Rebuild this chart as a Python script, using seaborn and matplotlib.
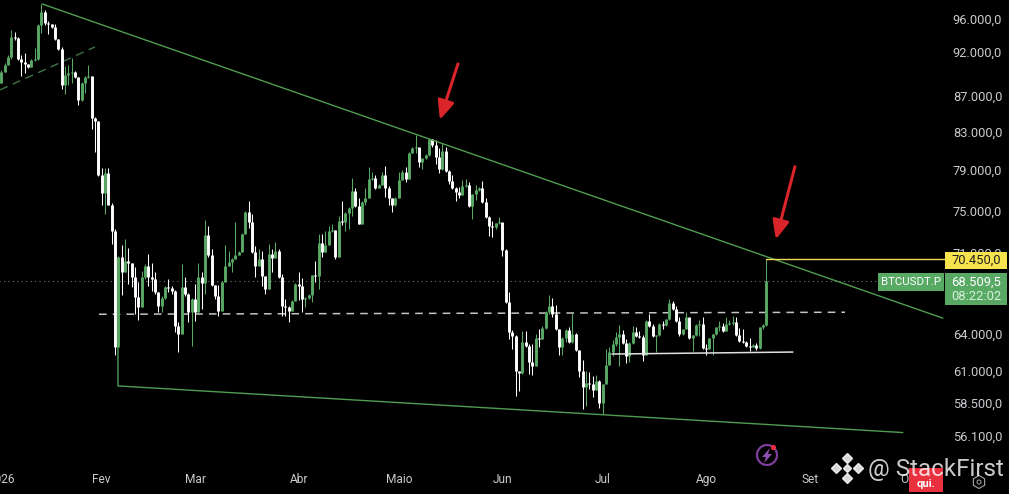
import matplotlib
matplotlib.use("Agg")
import matplotlib.pyplot as plt
from matplotlib.lines import Line2D
from matplotlib.patches import Circle, Polygon, Rectangle, RegularPolygon
from matplotlib.transforms import Affine2D
from matplotlib.ticker import FixedLocator, FixedFormatter, NullLocator
import pandas as pd
import seaborn as sns

# daily candles, the index is days since 1 Jan 2026
first_open = 88420
closes = [89670, 90480, 91420, 93800, 93680, 91190, 90840, 90600, 90250, 91070,
          91190, 95260, 96860, 95510, 95390, 95020, 93560, 92360, 88190, 89330,
          89560, 89670, 89100, 86500, 88420, 89100, 89220, 84530, 84200, 78550,
          76750, 78750, 75580, 73000, 62890, 70600, 69250, 70240, 70060, 68810,
          67060, 66210, 68810, 69790, 68810, 68630, 67500, 66290, 66980, 67930,
          67850, 67590, 64610, 63950, 67930, 67330, 65780, 66890, 65780, 68810,
          68280, 72630, 70780, 68100, 67150, 65870, 68370, 69790, 70150, 70420,
          70780, 71060, 72720, 74810, 73860, 71060, 69790, 70420, 68900, 67760,
          70870, 70510, 71150, 68810, 66290, 66210, 65870, 66720, 68190, 68020,
          66890, 66980, 67240, 68990, 68900, 71890, 71060, 71700, 73000, 73100,
          70600, 73950, 73860, 74720, 75200, 76950, 75390, 73670, 75780, 76260,
          78150, 78250, 77250, 77550, 78550, 77250, 76260, 75490, 76260, 78050,
          78860, 78150, 80810, 81330, 81430, 79880, 80290, 80600, 82270, 81640,
          80390, 79160, 81020, 78960, 77950, 77250, 76850, 76560, 77450, 77550,
          75390, 76660, 77050, 77250, 75780, 74330, 73470, 73380, 73760, 73860,
          71240, 66630, 64120, 63790, 60980, 60820, 63300, 62970, 61690, 61380,
          63620, 63540, 64440, 65780, 66290, 65610, 64360, 62890, 63620, 64280,
          63300, 63950, 62650, 60980, 59750, 60050, 59970, 59510, 60200, 58530,
          59970, 61450, 62490, 63130, 63700, 63950, 63210, 62170, 63210, 64120,
          63790, 63700, 62250, 65020, 64610, 63790, 63870, 64780, 64690, 65190,
          66550, 66040, 65020, 63950, 64360, 65360, 63620, 63870, 64690, 64780,
          62810, 62730, 63620, 63950, 64530, 64610, 64200, 64780, 64860, 64940,
          63870, 63380, 63300, 62970, 62890, 63050, 62810, 64530, 64690, 68509.5]
highs = [89900, 90720, 91650, 94650, 94400, 93800, 91650, 91890, 90600, 91190,
         92480, 95390, 97880, 97110, 95760, 95390, 95390, 93560, 92600, 90360,
         90480, 91300, 89780, 89100, 88540, 89220, 90480, 89220, 84630, 84200,
         79260, 79260, 79260, 75680, 73190, 70690, 71700, 72260, 71420, 70060,
         69700, 68370, 69340, 69970, 70870, 70060, 69250, 67500, 67150, 68020,
         68630, 68020, 67680, 64940, 69970, 68810, 67410, 66980, 68190, 70060,
         69250, 74050, 73470, 71330, 68100, 68100, 68460, 71700, 71150, 70510,
         73860, 71150, 72810, 74910, 75970, 74620, 71610, 71330, 71150, 68900,
         71800, 71330, 71980, 71330, 69070, 66890, 66290, 66800, 68280, 69250,
         68720, 67060, 67330, 68990, 70240, 72720, 72720, 73000, 73470, 73670,
         73100, 74430, 75970, 74810, 75290, 78250, 77250, 76170, 75880, 77250,
         79360, 78860, 78550, 77650, 78860, 79470, 77450, 76260, 76360, 78860,
         79060, 79360, 80910, 81430, 82700, 81330, 80190, 80700, 82380, 82270,
         82170, 81330, 81850, 81430, 79060, 78550, 77350, 77350, 78050, 78150,
         77850, 76660, 77550, 77350, 77950, 76170, 74430, 73950, 73760, 74330,
         73670, 71330, 67500, 64280, 63870, 60980, 64200, 64200, 63130, 63130,
         63950, 64360, 64610, 65870, 67240, 66980, 66380, 64360, 63700, 64360,
         64530, 65700, 64030, 62650, 61850, 60980, 60900, 60590, 60670, 60280,
         59970, 62730, 62890, 63460, 64120, 64690, 64280, 63540, 63300, 64610,
         64530, 64200, 63870, 65100, 65610, 64780, 63870, 64860, 65020, 65190,
         66890, 66720, 66290, 65360, 64360, 65780, 65280, 63870, 64780, 65100,
         65360, 63130, 63620, 63950, 64530, 65020, 64860, 65360, 65100, 65440,
         65360, 64440, 64360, 63380, 63620, 63130, 63210, 64530, 64780, 70450]
lows = [88420, 89670, 90480, 91190, 93440, 91070, 89220, 89560, 90130, 90250,
        90950, 91070, 94280, 95260, 94160, 94900, 93440, 92240, 87730, 87160,
        88190, 88420, 88990, 85950, 86390, 87270, 88990, 83340, 80910, 78450,
        75580, 74620, 75490, 71800, 62250, 62890, 67240, 69250, 68190, 67930,
        65610, 65100, 66210, 68630, 68020, 67590, 67330, 65780, 65780, 66890,
        67500, 67330, 64120, 62490, 63950, 67150, 64940, 62970, 65020, 65780,
        66040, 67330, 70600, 68020, 66890, 65440, 65870, 68370, 69790, 69250,
        70420, 70780, 71060, 72720, 73280, 70960, 68810, 69790, 68020, 67330,
        67760, 69250, 70510, 68720, 65440, 65440, 64940, 65870, 66720, 66800,
        65780, 66210, 66890, 66630, 68370, 67760, 70600, 71060, 71700, 72910,
        70420, 70600, 73570, 73000, 73190, 74430, 75290, 73670, 73670, 75580,
        76260, 78050, 77150, 77250, 77550, 76360, 75580, 74810, 75390, 76260,
        78050, 77850, 78150, 80810, 80810, 79360, 79160, 80190, 80500, 81430,
        79680, 78750, 79060, 78860, 77650, 77150, 75970, 76170, 76560, 77350,
        75290, 74140, 76070, 76950, 75680, 74240, 72540, 72450, 73190, 73670,
        70690, 66550, 63540, 62730, 59060, 59440, 60740, 62890, 60740, 60670,
        61380, 62890, 63540, 64360, 65610, 65360, 64280, 62250, 62250, 63300,
        63210, 63210, 62570, 60520, 58070, 58300, 59590, 58980, 59510, 58150,
        57690, 59970, 61450, 62170, 62970, 61380, 63130, 61610, 61690, 63130,
        63700, 63620, 61770, 62250, 64530, 63700, 62490, 63790, 64360, 64610,
        65100, 65950, 64940, 63790, 63870, 64360, 63540, 62570, 63790, 63790,
        62730, 62250, 62730, 62250, 63870, 64200, 64120, 64200, 64690, 64690,
        63790, 63300, 63210, 62890, 62570, 62890, 62650, 62730, 64360, 64610]

price_ticks = [96000, 92000, 87000, 83000, 79000, 75000, 71000, 64000, 61000, 58500, 56100]
month_days = [1, 31, 59, 90, 120, 151, 181, 212, 243, 273]
month_labels = ["2026", "Fev", "Mar", "Abr", "Maio", "Jun", "Jul", "Ago", "Set", "Out"]

upper_line = ([13.2, 282.9], [97880, 65280])
lower_line = ([35.9, 35.9, 270.9], [62890, 59820, 56330])
old_channel = ([0.6, 29], [87620, 92600])
mid_dashed = ([30.2, 253.6], [65610, 65780])
support = ([183.8, 238], [62330, 62490])
high_level = ([230, 285], [70450, 70450])
last_price = ([0, 263], [68509.5, 68509.5])

GREEN = "#58a964"
TEXT = "#c9cbcf"

sns.set_theme(style="dark", rc={"axes.facecolor": "black", "figure.facecolor": "black",
                                "axes.grid": False, "font.family": "Roboto"})

rows = []
prev = first_open
for i, (c, h, l) in enumerate(zip(closes, highs, lows)):
    day = i + 1
    d = "up" if c >= prev else "down"
    rows.append({"day": day, "wick": h, "body": c, "dir": d})
    rows.append({"day": day, "wick": l, "body": prev, "dir": d})
    prev = c
candles = pd.DataFrame(rows)
colors = {"up": GREEN, "down": "white"}

fig = plt.figure(figsize=(10.09, 4.94), dpi=100)
ax = fig.add_axes([-20 / 1009, 0, 1029 / 1009, 1])
ax.set_yscale("log")

sns.lineplot(data=candles, x="day", y="wick", hue="dir", units="day", estimator=None, sort=False,
             palette=colors, linewidth=0.75, legend=False, ax=ax, solid_capstyle="butt", zorder=3)
sns.lineplot(data=candles, x="day", y="body", hue="dir", units="day", estimator=None, sort=False,
             palette=colors, linewidth=2.1, legend=False, ax=ax, solid_capstyle="butt", zorder=3)

ax.plot(*upper_line, color="#4f9d52", lw=1, zorder=4)
ax.plot(*lower_line, color="#4f9d52", lw=1, zorder=4)
ax.plot(*old_channel, color="#3f7547", lw=1, ls=(0, (6, 4)), zorder=2)
ax.plot(*mid_dashed, color="#c4c4c4", lw=1.1, ls=(0, (5, 4)), zorder=2)
ax.plot(*support, color="#e0e0e0", lw=1.1, zorder=4)
ax.plot(*high_level, color="#f2dc55", lw=1, zorder=4)
ax.plot(*last_price, color="#6f7d71", lw=0.8, ls=(0, (1, 3)), zorder=1)

for start, tip in [((137.7, 90600), (132.3, 84310)), ((238.6, 79360), (232.9, 72260))]:
    ax.annotate("", xy=tip, xytext=start, zorder=6,
                arrowprops=dict(arrowstyle="-|>,head_width=0.42,head_length=0.95", color="#d9252a",
                                lw=2.2, shrinkA=0, shrinkB=0))

ax.set_xlim(-5.41, 302.7)
ax.set_ylim(52040, 98380)
ax.set_xlabel("")
ax.set_ylabel("")
for spine in ax.spines.values():
    spine.set_visible(False)

ax.yaxis.set_major_locator(FixedLocator(price_ticks))
ax.yaxis.set_major_formatter(FixedFormatter([f"{v:,.1f}".replace(",", "X").replace(".", ",").replace("X", ".")
                                             for v in price_ticks]))
ax.yaxis.set_minor_locator(NullLocator())
ax.tick_params(axis="y", left=False, right=False, length=0, labelleft=False, labelright=True,
               pad=-40.5, labelsize=9.3, labelcolor=TEXT)
ax.set_xticks(month_days, month_labels)
ax.tick_params(axis="x", bottom=False, length=0, labelsize=8.6, labelcolor=TEXT, pad=-15)

# tags, watermark and icons sit on top, placed in picture pixels
px = Affine2D().scale(1 / 1009, -1 / 494).translate(0, 1) + fig.transFigure


def box(x, y, w, h, color):
    fig.add_artist(Rectangle((x, y), w, h, transform=px, facecolor=color, edgecolor="none"))


def label(x, y, s, color="white", size=8.6, **kw):
    fig.add_artist(plt.Text(x, y, s, transform=px, color=color, fontsize=size, ha="center", va="center", **kw))


box(945, 252, 62, 17, "#f7e34e")
label(976, 260.5, "70.450,0", color="#222222", size=9.4)
box(878, 273, 66, 18, GREEN)
label(911, 282, "BTCUSDT.P", size=8.2)
box(945, 273, 62, 32, GREEN)
label(976, 282, "68.509,5", size=9.4)
label(976, 296, "08:22:02", color="#d8efdc", size=9.4)
box(909, 468, 34, 24, "#e8303f")
label(926, 484, "qui.", size=8, fontweight="bold")

fig.add_artist(plt.Text(868, 469, "@ StackFirst", transform=px, color="white", alpha=0.8, fontsize=17.5,
                        ha="left", va="center"))
fig.add_artist(Line2D([847], [468], transform=px, marker="D", ms=4, ls="", color="white", alpha=0.85))
fig.add_artist(Line2D([847, 847, 836, 858], [458, 478, 468, 468], transform=px, marker="D", ms=5.5, ls="",
                      color="white", alpha=0.85))

fig.add_artist(Circle((767, 455), 10, transform=px, fill=False, edgecolor="#7d3f9b", lw=1.6))
fig.add_artist(Polygon([(770, 448), (762, 457), (766, 457), (764, 463), (772, 454), (768, 454)], transform=px,
                       facecolor="#8e4fb0", edgecolor="none"))
fig.add_artist(Circle((773.5, 447.5), 2.6, transform=px, facecolor="#e8303f", edgecolor="none"))
fig.add_artist(RegularPolygon((979, 482), 6, radius=6.5, transform=px, fill=False, edgecolor="#a8a8a8", lw=0.8))
fig.add_artist(Circle((979, 482), 2, transform=px, fill=False, edgecolor="#a8a8a8", lw=0.7))

fig.savefig("out.png", dpi=100, facecolor="black")
